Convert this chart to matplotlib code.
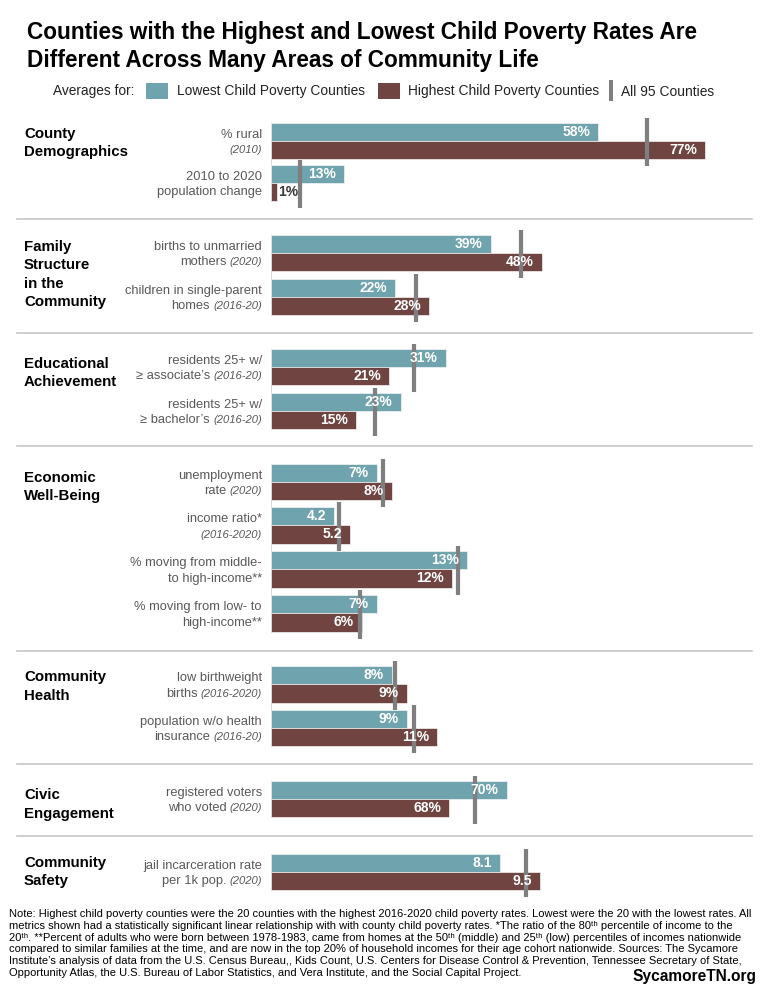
import matplotlib
matplotlib.use("Agg")
import matplotlib.pyplot as plt
from matplotlib.patches import Rectangle
from matplotlib.lines import Line2D

plt.rcParams['font.family'] = ['Liberation Sans', 'DejaVu Sans']

# ---------------- DATA ----------------
sections = ["County\nDemographics", "Family\nStructure\nin the\nCommunity",
            "Educational\nAchievement", "Economic\nWell-Being", "Community\nHealth",
            "Civic\nEngagement", "Community\nSafety"]
section_of_metric = [0, 0, 1, 1, 2, 2, 3, 3, 3, 3, 4, 4, 5, 6]

label_line1 = ["% rural", "2010 to 2020", "births to unmarried", "children in single-parent",
               "residents 25+ w/", "residents 25+ w/", "unemployment", "income ratio*",
               "% moving from middle-", "% moving from low- to", "low birthweight",
               "population w/o health", "registered voters", "jail incarceration rate"]
label_line2 = ["", "population change", "mothers", "homes", "\u2265 associate\u2019s",
               "\u2265 bachelor\u2019s", "rate", "", "to high-income**", "high-income**",
               "births", "insurance", "who voted", "per 1k pop."]
label_years = ["(2010)", "", "(2020)", "(2016-20)", "(2016-20)", "(2016-20)", "(2020)",
               "(2016-2020)", "", "", "(2016-2020)", "(2016-20)", "(2020)", "(2020)"]

lowest = [58, 13, 39, 22, 31, 23, 7, 4.2, 13, 7, 8, 9, 70, 8.1]
highest = [77, 1, 48, 28, 21, 15, 8, 5.2, 12, 6, 9, 11, 68, 9.5]
all95 = [66.7, 5.1, 44.3, 25.7, 25.4, 18.4, 7.4, 4.5, 12.4, 5.9, 8.2, 9.5, 68.9, 9.0]
is_pct = [True, True, True, True, True, True, True, False, True, True, True, True, True, False]

legend_labels = ["Lowest Child Poverty Counties", "Highest Child Poverty Counties", "All 95 Counties"]

title_lines = ["Counties with the Highest and Lowest Child Poverty Rates Are",
               "Different Across Many Areas of Community Life"]

TH = "\u1d57\u02b0"
note_lines = [
    "Note: Highest child poverty counties were the 20 counties with the highest 2016-2020 child poverty rates. Lowest were the 20 with the lowest rates. All",
    "metrics shown had a statistically significant linear relationship with with county child poverty rates. *The ratio of the 80" + TH + " percentile of income to the",
    "20" + TH + ". **Percent of adults who were born between 1978-1983, came from homes at the 50" + TH + " (middle) and 25" + TH + " (low) percentiles of incomes nationwide",
    "compared to similar families at the time, and are now in the top 20% of household incomes for their age cohort nationwide. Sources: The Sycamore",
    "Institute\u2019s analysis of data from the U.S. Census Bureau,, Kids Count, U.S. Centers for Disease Control & Prevention, Tennessee Secretary of State,",
    "Opportunity Atlas, the U.S. Bureau of Labor Statistics, and Vera Institute, and the Social Capital Project.",
]

# ---------------- LAYOUT / STYLE ----------------
W, H = 768, 994
TEAL = '#6fa3ad'
RED = '#704441'
AVG = '#7f7f7f'
LGRAY = '#595959'
SEP = '#c4c4c4'

tops = [122.5, 164.5, 234.5, 278.5, 348.5, 392.5, 463.5, 507, 551, 595, 666, 709.5, 780.5, 853.5]
px_per_unit = [5.64, 5.64, 5.64, 5.64, 5.64, 5.64, 15.1, 15.1, 15.1, 15.1, 15.1, 15.1, 28.85, 28.3]
baseline = [0, 0, 0, 0, 0, 0, 0, 0, 0, 0, 0, 0, 61.83, 0]
sec_first_line = [132.7, 245.7, 362.3, 476.7, 676, 794, 861.7]
separators = [219.3, 332.7, 445.7, 651, 764, 835.7]
BAR_X = 271
BAR_H = 18.3
OV_TOP, OV_BOT = 5, 7

fig = plt.figure(figsize=(W / 100, H / 100), dpi=100)
fig.patch.set_facecolor('white')


def fx(x):
    return x / W


def fy(y):
    return 1 - y / H


def pt(px):
    return px * 72 / 100


# background axes in pixel coordinates
bg = fig.add_axes([0, 0, 1, 1])
bg.set_xlim(0, W)
bg.set_ylim(H, 0)
bg.axis('off')

# Title
for i, t in enumerate(title_lines):
    bg.text(27, 30.7 + i * 28.5 + 8, t, fontsize=16.3, fontweight='bold', ha='left',
            va='baseline', color='black')

# Legend
ly = 91
bg.text(134, ly + 4.5, "Averages for:", fontsize=9.9, ha='right', va='baseline', color='#222222')
bg.add_patch(Rectangle((146, 83), 22, 16, facecolor=TEAL, edgecolor='none'))
bg.text(177, ly + 4.5, legend_labels[0], fontsize=9.9, ha='left', va='baseline', color='#222222')
bg.add_patch(Rectangle((378, 83), 22, 16, facecolor=RED, edgecolor='none'))
bg.text(408, ly + 4.5, legend_labels[1], fontsize=9.9, ha='left', va='baseline', color='#222222')
bg.add_patch(Rectangle((609, 79.5), 4, 21.5, facecolor=AVG, edgecolor='none'))
bg.text(621, ly + 4.5, legend_labels[2], fontsize=9.9, ha='left', va='baseline', color='#222222')

# separators
for s in separators:
    bg.add_line(Line2D([17, 752], [s, s], color=SEP, lw=pt(1.6)))

# section labels
for k, s in enumerate(sections):
    for j, line in enumerate(s.split("\n")):
        bg.text(24, sec_first_line[k] + j * 18.3 + 5.3, line, fontsize=10.8,
                fontweight='bold', ha='left', va='baseline', color='black')

# thin vertical axis line per section
for k in range(len(sections)):
    idx = [i for i, s in enumerate(section_of_metric) if s == k]
    y0 = tops[idx[0]]
    y1 = tops[idx[-1]] + 2 * BAR_H
    bg.add_line(Line2D([BAR_X, BAR_X], [y0, y1], color='#d8d8d8', lw=pt(1)))

fig.canvas.draw()
renderer = fig.canvas.get_renderer()

LABEL_X = 262
for i in range(len(lowest)):
    T = tops[i]
    cy = T + BAR_H
    # metric labels
    lines = [(label_line1[i], ""), (label_line2[i], label_years[i])]
    for j, (norm, ital) in enumerate(lines):
        yb = cy + (-7.8 if j == 0 else 7.8) + 4.6
        xr = LABEL_X
        if ital:
            ti = bg.text(xr, yb, ital, fontsize=8.1, fontstyle='italic', ha='right',
                         va='baseline', color=LGRAY)
            wpx = ti.get_window_extent(renderer).width
            xr = xr - wpx - (3.2 if norm else 0)
        if norm:
            bg.text(xr, yb, norm, fontsize=9.3, ha='right', va='baseline', color=LGRAY)

    # bars axes
    axh = 2 * BAR_H + OV_TOP + OV_BOT
    ax = fig.add_axes([fx(BAR_X), fy(T - OV_TOP + axh), (W - BAR_X) / W, axh / H])
    x0 = baseline[i]
    ax.set_xlim(x0, x0 + (W - BAR_X) / px_per_unit[i])
    ax.set_ylim(axh, 0)
    ax.axis('off')
    yt = OV_TOP + BAR_H / 2
    yr = OV_TOP + BAR_H * 1.5
    ax.barh([yt], [lowest[i] - x0], left=x0, height=BAR_H, color=TEAL,
            edgecolor='#f4f4f4', linewidth=0.5)
    ax.barh([yr], [highest[i] - x0], left=x0, height=BAR_H, color=RED,
            edgecolor='#f4f4f4', linewidth=0.5)
    ax.vlines(all95[i], 0, axh, color=AVG, linewidth=pt(4.2))
    for v, yy in ((lowest[i], yt), (highest[i], yr)):
        lab = f"{v:.0f}%" if is_pct[i] else f"{v:.1f}"
        if (v - x0) * px_per_unit[i] < 30:
            ax.annotate(lab, (v, yy), xytext=(pt(1.5), 0), textcoords='offset points',
                        ha='left', va='center', fontsize=10, fontweight='bold',
                        color='#3a3a3a', annotation_clip=False)
        else:
            ax.annotate(lab, (v, yy), xytext=(-pt(8), 0), textcoords='offset points',
                        ha='right', va='center', fontsize=10, fontweight='bold',
                        color='white', annotation_clip=False)

# footnote
for i, line in enumerate(note_lines):
    bg.text(9, 913.3 + i * 11.65 + 4.0, line, fontsize=8.05, ha='left', va='baseline',
            color='black')
bg.text(756, 976 + 5.2, "SycamoreTN.org", fontsize=11.2, fontweight='bold', ha='right',
        va='baseline', color='black')

fig.savefig("out.png", dpi=100, facecolor='white')
